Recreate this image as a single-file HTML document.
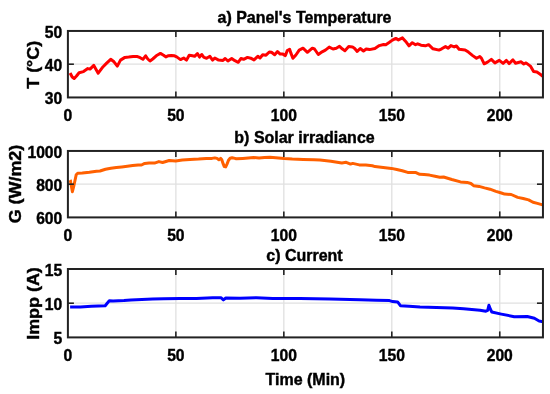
<!DOCTYPE html><html><head><meta charset="utf-8"><style>html,body{margin:0;padding:0;background:#fff;width:550px;height:394px;overflow:hidden}svg{display:block}text{font-family:"Liberation Sans",Arial,sans-serif;font-weight:bold;fill:#000;stroke:#000;stroke-width:0.4px}</style></head><body>
<svg width="550" height="394" viewBox="0 0 550 394">
<rect width="550" height="394" fill="#fff"/>
<defs>
<clipPath id="c0"><rect x="67.9" y="30.9" width="475.1" height="66.5"/></clipPath>
<clipPath id="c1"><rect x="67.9" y="150.9" width="475.1" height="66.5"/></clipPath>
<clipPath id="c2"><rect x="67.9" y="269.0" width="475.1" height="68.4"/></clipPath>
</defs>
<line x1="175.87" y1="30.95" x2="175.87" y2="97.45" stroke="#e0e0e0" stroke-width="1.3"/>
<line x1="283.83" y1="30.95" x2="283.83" y2="97.45" stroke="#e0e0e0" stroke-width="1.3"/>
<line x1="391.80" y1="30.95" x2="391.80" y2="97.45" stroke="#e0e0e0" stroke-width="1.3"/>
<line x1="499.76" y1="30.95" x2="499.76" y2="97.45" stroke="#e0e0e0" stroke-width="1.3"/>
<line x1="67.90" y1="64.20" x2="542.95" y2="64.20" stroke="#e0e0e0" stroke-width="1.3"/>
<line x1="175.87" y1="150.95" x2="175.87" y2="217.40" stroke="#e0e0e0" stroke-width="1.3"/>
<line x1="283.83" y1="150.95" x2="283.83" y2="217.40" stroke="#e0e0e0" stroke-width="1.3"/>
<line x1="391.80" y1="150.95" x2="391.80" y2="217.40" stroke="#e0e0e0" stroke-width="1.3"/>
<line x1="499.76" y1="150.95" x2="499.76" y2="217.40" stroke="#e0e0e0" stroke-width="1.3"/>
<line x1="67.90" y1="184.18" x2="542.95" y2="184.18" stroke="#e0e0e0" stroke-width="1.3"/>
<line x1="175.87" y1="269.00" x2="175.87" y2="337.40" stroke="#e0e0e0" stroke-width="1.3"/>
<line x1="283.83" y1="269.00" x2="283.83" y2="337.40" stroke="#e0e0e0" stroke-width="1.3"/>
<line x1="391.80" y1="269.00" x2="391.80" y2="337.40" stroke="#e0e0e0" stroke-width="1.3"/>
<line x1="499.76" y1="269.00" x2="499.76" y2="337.40" stroke="#e0e0e0" stroke-width="1.3"/>
<line x1="67.90" y1="303.20" x2="542.95" y2="303.20" stroke="#e0e0e0" stroke-width="1.3"/>
<polyline clip-path="url(#c0)" points="70.1,73.1 70.5,73.8 72.2,77.0 74.2,78.5 76.5,76.0 79.1,72.7 83.5,71.6 87.8,68.6 90.0,69.1 93.8,65.4 98.2,73.2 103.1,66.7 106.4,63.4 110.7,59.3 114.0,61.8 117.3,66.1 120.5,60.1 124.9,57.4 128.7,57.1 133.1,56.6 137.5,56.6 140.2,57.7 142.9,59.3 145.6,55.8 147.8,59.0 150.0,61.0 152.7,59.0 157.1,55.2 160.4,53.4 163.6,55.2 165.8,56.9 168.0,55.8 171.3,55.6 174.5,55.8 176.7,56.9 180.5,59.6 183.7,58.0 186.5,60.1 189.2,55.2 192.5,55.8 194.6,56.3 197.4,53.6 199.5,57.1 201.7,54.5 203.9,57.4 206.6,58.2 209.9,56.3 212.6,60.1 214.8,58.0 218.6,60.1 223.0,60.4 225.2,58.5 227.9,61.0 231.7,58.5 234.9,60.7 238.2,62.3 240.9,58.5 243.6,59.3 247.5,57.4 250.7,58.2 254.0,59.9 257.8,56.3 260.0,58.0 262.7,54.7 266.0,55.2 269.3,52.0 271.5,52.3 274.7,54.7 277.5,51.6 280.2,54.1 282.9,54.1 285.4,55.6 287.3,50.5 289.6,49.3 291.0,53.4 292.9,58.3 295.9,55.0 299.2,50.1 303.0,48.2 307.4,52.3 312.3,48.2 314.5,49.0 318.3,54.5 322.1,51.8 325.4,50.1 329.2,47.1 333.0,49.0 336.3,48.2 339.5,46.3 342.5,49.1 344.9,50.7 348.7,46.6 352.5,46.9 354.7,48.5 357.2,51.4 360.2,48.5 363.5,51.0 366.2,49.0 369.5,49.6 374.9,48.5 379.3,45.6 383.6,44.5 385.8,44.7 389.1,42.5 392.4,40.1 395.8,38.4 398.4,39.9 402.5,37.9 405.7,41.4 409.0,45.8 412.3,42.7 415.5,44.7 417.7,43.8 421.0,45.2 425.4,45.8 428.6,44.7 433.0,48.8 439.0,50.1 441.7,48.8 445.5,46.6 448.2,48.2 450.9,45.6 454.2,46.9 456.4,46.0 459.1,49.3 465.1,49.9 468.4,52.1 472.7,55.6 476.5,58.3 479.8,56.5 481.5,58.3 484.2,63.8 487.5,62.1 491.3,59.4 494.9,62.9 499.3,60.4 503.1,63.4 506.4,60.4 509.1,63.6 512.9,59.9 515.6,63.2 521.1,61.8 523.8,64.0 526.0,62.9 530.4,66.1 533.6,71.6 536.9,72.1 540.2,74.3 543.5,76.8" fill="none" stroke="#ff0000" stroke-width="3.0" stroke-linejoin="round" stroke-linecap="butt"/>
<polyline clip-path="url(#c1)" points="70.1,180.1 70.5,180.8 70.6,181.8 72.4,191.7 73.7,186.5 76.2,174.7 77.7,173.2 82.3,172.9 89.4,172.2 96.5,171.2 100.0,171.0 105.5,169.3 110.9,168.2 116.4,167.4 121.8,166.9 127.3,166.3 132.7,165.6 138.2,164.9 141.5,165.0 144.7,163.4 149.1,163.0 154.5,163.1 158.9,161.6 162.6,162.5 169.2,160.5 175.7,160.9 182.3,160.1 189.9,159.4 198.6,159.0 206.3,158.4 209.0,158.5 212.0,158.4 214.7,157.9 217.0,158.4 218.9,159.8 220.7,158.4 221.8,159.8 223.2,163.9 224.3,166.6 225.7,166.9 227.1,163.9 228.5,160.2 230.1,158.2 232.1,157.7 234.9,158.4 236.2,158.8 242.7,158.4 248.2,158.0 253.6,157.5 259.1,158.0 264.5,157.5 270.0,157.3 275.9,157.7 284.1,158.6 292.3,159.1 303.2,159.5 314.1,159.7 320.0,160.1 330.9,161.2 341.8,163.0 346.2,162.3 350.5,164.1 352.7,163.4 359.3,164.9 365.8,164.9 372.4,165.8 375.0,166.6 383.2,167.5 391.4,168.4 396.8,169.5 402.3,170.8 407.7,172.4 415.4,172.4 419.7,174.3 424.1,174.6 429.5,175.1 435.0,176.2 439.8,177.3 443.6,177.0 451.8,179.5 460.5,181.9 467.1,182.4 470.9,183.5 473.6,185.7 479.1,186.4 484.5,187.9 490.0,189.2 495.9,191.4 501.4,193.0 504.6,194.1 511.2,194.5 517.7,197.4 523.2,198.5 528.6,199.9 533.0,202.3 537.4,203.4 543.5,205.2" fill="none" stroke="#ff6000" stroke-width="3.0" stroke-linejoin="round" stroke-linecap="butt"/>
<polyline clip-path="url(#c2)" points="70.1,307.1 72.0,307.1 80.4,306.9 91.3,306.3 105.2,305.7 107.4,303.0 109.3,300.8 113.1,300.9 124.0,300.5 130.9,299.9 141.8,299.5 152.7,299.1 163.6,298.8 180.0,298.6 196.4,298.4 212.7,297.7 220.9,297.7 223.4,299.9 225.8,298.0 240.0,298.2 256.4,297.8 272.7,298.4 300.0,298.6 330.0,299.1 360.0,299.7 376.4,300.2 389.5,300.6 392.7,301.6 397.6,301.9 400.4,305.7 409.1,306.2 420.0,307.0 436.4,307.4 452.7,308.0 463.6,308.8 480.0,310.2 485.9,311.2 487.7,310.4 488.9,305.3 490.4,309.2 491.8,312.0 501.3,314.1 514.3,316.7 527.3,316.5 534.4,318.3 539.1,321.0 543.5,321.8" fill="none" stroke="#0000ff" stroke-width="3.0" stroke-linejoin="round" stroke-linecap="butt"/>
<line x1="175.87" y1="97.45" x2="175.87" y2="91.45" stroke="#222222" stroke-width="1.6"/>
<line x1="175.87" y1="30.95" x2="175.87" y2="36.95" stroke="#222222" stroke-width="1.6"/>
<line x1="283.83" y1="97.45" x2="283.83" y2="91.45" stroke="#222222" stroke-width="1.6"/>
<line x1="283.83" y1="30.95" x2="283.83" y2="36.95" stroke="#222222" stroke-width="1.6"/>
<line x1="391.80" y1="97.45" x2="391.80" y2="91.45" stroke="#222222" stroke-width="1.6"/>
<line x1="391.80" y1="30.95" x2="391.80" y2="36.95" stroke="#222222" stroke-width="1.6"/>
<line x1="499.76" y1="97.45" x2="499.76" y2="91.45" stroke="#222222" stroke-width="1.6"/>
<line x1="499.76" y1="30.95" x2="499.76" y2="36.95" stroke="#222222" stroke-width="1.6"/>
<line x1="67.90" y1="64.20" x2="73.90" y2="64.20" stroke="#222222" stroke-width="1.6"/>
<line x1="542.95" y1="64.20" x2="536.95" y2="64.20" stroke="#222222" stroke-width="1.6"/>
<rect x="67.90" y="30.95" width="475.05" height="66.50" fill="none" stroke="#222222" stroke-width="2.0"/>
<text transform="translate(67.90,120.55) scale(0.98,1.070)" font-size="16" text-anchor="middle">0</text>
<text transform="translate(175.87,120.55) scale(0.98,1.070)" font-size="16" text-anchor="middle">50</text>
<text transform="translate(283.83,120.55) scale(0.98,1.070)" font-size="16" text-anchor="middle">100</text>
<text transform="translate(391.80,120.55) scale(0.98,1.070)" font-size="16" text-anchor="middle">150</text>
<text transform="translate(499.76,120.55) scale(0.98,1.070)" font-size="16" text-anchor="middle">200</text>
<text transform="translate(62.30,104.45) scale(0.98,1.070)" font-size="16" text-anchor="end">30</text>
<text transform="translate(62.30,71.20) scale(0.98,1.070)" font-size="16" text-anchor="end">40</text>
<text transform="translate(62.30,37.95) scale(0.98,1.070)" font-size="16" text-anchor="end">50</text>
<line x1="175.87" y1="217.40" x2="175.87" y2="211.40" stroke="#222222" stroke-width="1.6"/>
<line x1="175.87" y1="150.95" x2="175.87" y2="156.95" stroke="#222222" stroke-width="1.6"/>
<line x1="283.83" y1="217.40" x2="283.83" y2="211.40" stroke="#222222" stroke-width="1.6"/>
<line x1="283.83" y1="150.95" x2="283.83" y2="156.95" stroke="#222222" stroke-width="1.6"/>
<line x1="391.80" y1="217.40" x2="391.80" y2="211.40" stroke="#222222" stroke-width="1.6"/>
<line x1="391.80" y1="150.95" x2="391.80" y2="156.95" stroke="#222222" stroke-width="1.6"/>
<line x1="499.76" y1="217.40" x2="499.76" y2="211.40" stroke="#222222" stroke-width="1.6"/>
<line x1="499.76" y1="150.95" x2="499.76" y2="156.95" stroke="#222222" stroke-width="1.6"/>
<line x1="67.90" y1="184.18" x2="73.90" y2="184.18" stroke="#222222" stroke-width="1.6"/>
<line x1="542.95" y1="184.18" x2="536.95" y2="184.18" stroke="#222222" stroke-width="1.6"/>
<rect x="67.90" y="150.95" width="475.05" height="66.45" fill="none" stroke="#222222" stroke-width="2.0"/>
<text transform="translate(67.90,240.50) scale(0.98,1.070)" font-size="16" text-anchor="middle">0</text>
<text transform="translate(175.87,240.50) scale(0.98,1.070)" font-size="16" text-anchor="middle">50</text>
<text transform="translate(283.83,240.50) scale(0.98,1.070)" font-size="16" text-anchor="middle">100</text>
<text transform="translate(391.80,240.50) scale(0.98,1.070)" font-size="16" text-anchor="middle">150</text>
<text transform="translate(499.76,240.50) scale(0.98,1.070)" font-size="16" text-anchor="middle">200</text>
<text transform="translate(62.30,224.40) scale(0.98,1.070)" font-size="16" text-anchor="end">600</text>
<text transform="translate(62.30,191.18) scale(0.98,1.070)" font-size="16" text-anchor="end">800</text>
<text transform="translate(62.30,157.95) scale(0.98,1.070)" font-size="16" text-anchor="end">1000</text>
<line x1="175.87" y1="337.40" x2="175.87" y2="331.40" stroke="#222222" stroke-width="1.6"/>
<line x1="175.87" y1="269.00" x2="175.87" y2="275.00" stroke="#222222" stroke-width="1.6"/>
<line x1="283.83" y1="337.40" x2="283.83" y2="331.40" stroke="#222222" stroke-width="1.6"/>
<line x1="283.83" y1="269.00" x2="283.83" y2="275.00" stroke="#222222" stroke-width="1.6"/>
<line x1="391.80" y1="337.40" x2="391.80" y2="331.40" stroke="#222222" stroke-width="1.6"/>
<line x1="391.80" y1="269.00" x2="391.80" y2="275.00" stroke="#222222" stroke-width="1.6"/>
<line x1="499.76" y1="337.40" x2="499.76" y2="331.40" stroke="#222222" stroke-width="1.6"/>
<line x1="499.76" y1="269.00" x2="499.76" y2="275.00" stroke="#222222" stroke-width="1.6"/>
<line x1="67.90" y1="303.20" x2="73.90" y2="303.20" stroke="#222222" stroke-width="1.6"/>
<line x1="542.95" y1="303.20" x2="536.95" y2="303.20" stroke="#222222" stroke-width="1.6"/>
<rect x="67.90" y="269.00" width="475.05" height="68.40" fill="none" stroke="#222222" stroke-width="2.0"/>
<text transform="translate(67.90,360.50) scale(0.98,1.070)" font-size="16" text-anchor="middle">0</text>
<text transform="translate(175.87,360.50) scale(0.98,1.070)" font-size="16" text-anchor="middle">50</text>
<text transform="translate(283.83,360.50) scale(0.98,1.070)" font-size="16" text-anchor="middle">100</text>
<text transform="translate(391.80,360.50) scale(0.98,1.070)" font-size="16" text-anchor="middle">150</text>
<text transform="translate(499.76,360.50) scale(0.98,1.070)" font-size="16" text-anchor="middle">200</text>
<text transform="translate(62.30,344.40) scale(0.98,1.070)" font-size="16" text-anchor="end">5</text>
<text transform="translate(62.30,310.20) scale(0.98,1.070)" font-size="16" text-anchor="end">10</text>
<text transform="translate(62.30,276.00) scale(0.98,1.070)" font-size="16" text-anchor="end">15</text>
<text transform="translate(304.5,22.9) scale(1,1.070)" font-size="16" text-anchor="middle">a) Panel&#39;s Temperature</text>
<text transform="translate(304.5,143.2) scale(1,1.070)" font-size="16" text-anchor="middle">b) Solar irradiance</text>
<text transform="translate(304.5,260.9) scale(1,1.070)" font-size="16" text-anchor="middle">c) Current</text>
<text transform="translate(38.6,64.8) scale(1,1.120) rotate(-90)" font-size="16" text-anchor="middle">T (°C)</text>
<text transform="translate(21.4,184.0) scale(1,1.120) rotate(-90)" font-size="16" text-anchor="middle">G (W/m2)</text>
<text transform="translate(38.6,303.5) scale(1,1.120) rotate(-90)" font-size="16" text-anchor="middle">Impp (A)</text>
<text transform="translate(305.4,384.6) scale(1,1.070)" font-size="16" text-anchor="middle">Time (Min)</text>
</svg></body></html>
